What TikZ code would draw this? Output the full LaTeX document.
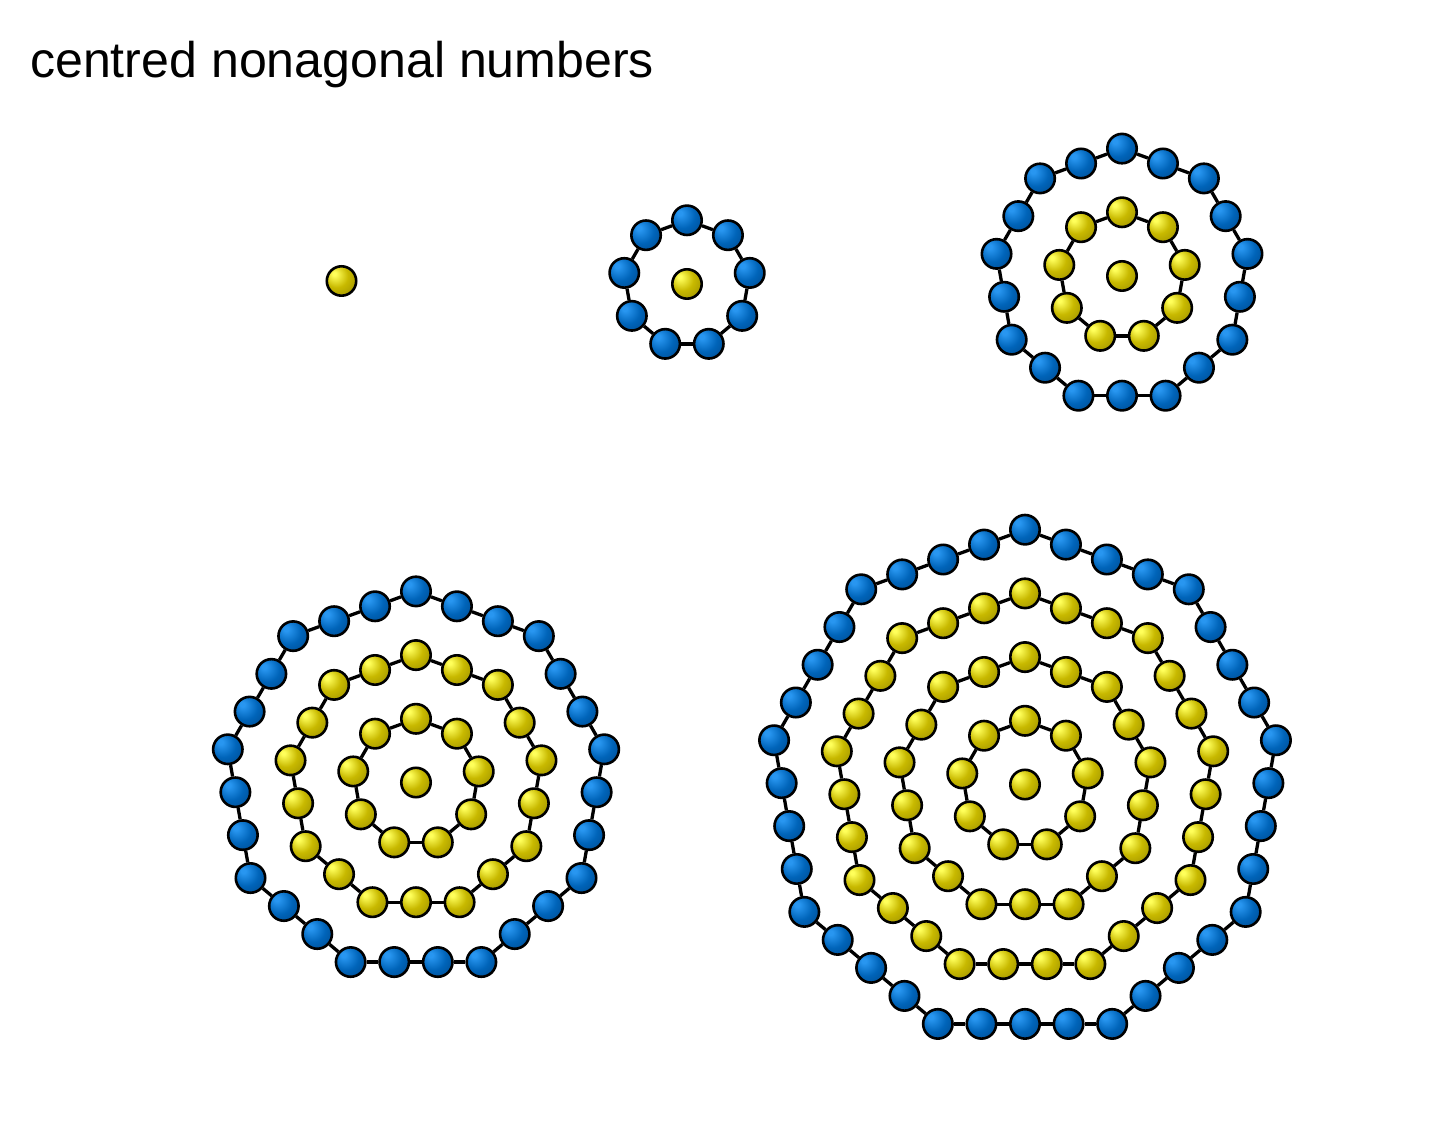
\documentclass[tikz,border=0pt]{standalone}
\usepackage{fontspec}
\setmainfont{Liberation Sans}
\definecolor{bhl}{RGB}{40,150,240}
\definecolor{bmid}{RGB}{0,100,185}
\definecolor{bdk}{RGB}{0,72,140}
\definecolor{bdark}{RGB}{0,40,85}
\definecolor{yhl}{RGB}{255,255,90}
\definecolor{ymid}{RGB}{200,185,0}
\definecolor{ydk}{RGB}{150,138,0}
\definecolor{ydark}{RGB}{90,80,0}
\pgfdeclareradialshading{blueball}{\pgfpoint{-13bp}{13bp}}{color(0bp)=(bhl); color(4bp)=(bhl); color(22bp)=(bmid); color(42bp)=(bdk); color(62bp)=(bdark)}
\pgfdeclareradialshading{yellowball}{\pgfpoint{-13bp}{13bp}}{color(0bp)=(yhl); color(3bp)=(yhl); color(20bp)=(ymid); color(42bp)=(ydk); color(62bp)=(ydark)}
\tikzset{
  dotbase/.style={circle, draw=black, line width=2.6pt, minimum size=29.4pt, inner sep=0pt, shade},
  bluedot/.style={dotbase, shading=blueball},
  yellowdot/.style={dotbase, shading=yellowball},
  edge/.style={draw=black, line width=3.3pt},
  titletext/.style={anchor=base west, inner sep=0pt, font=\fontsize{50.1}{55}\selectfont}
}
\def\R{63.7}
\newcommand\nonafig[4]{%
  \node[yellowdot] (#1-0) at (#2,#3) {};
  \foreach \k in {1,...,#4}{
    \pgfmathtruncatemacro\nd{9*\k}
    \pgfmathtruncatemacro\last{\nd-1}
    \foreach \j in {0,...,\last}{
      \pgfmathtruncatemacro\s{floor(\j/\k)}
      \pgfmathtruncatemacro\t{\j-\s*\k}
      \pgfmathsetmacro\aa{90+40*\s}
      \pgfmathsetmacro\px{#2+\R*((\k-\t)*cos(\aa)+\t*cos(\aa+40))/1}
      \pgfmathsetmacro\py{#3+\R*((\k-\t)*sin(\aa)+\t*sin(\aa+40))/1}
      \ifnum\k=#4\relax
        \node[bluedot] (#1-\k-\j) at (\px,\py) {};
      \else
        \node[yellowdot] (#1-\k-\j) at (\px,\py) {};
      \fi
    }
    \foreach \j in {0,...,\last}{
      \pgfmathtruncatemacro\nx{mod(\j+1,\nd)}
      \draw[edge] (#1-\k-\j) -- (#1-\k-\nx);
    }
  }
}
\begin{document}
\begin{tikzpicture}[x=1pt,y=1pt]
\useasboundingbox (0,0) rectangle (1441,1125);
\node[titletext] (title) at (30,1047) {centred nonagonal numbers};
\node[yellowdot] (f1-0) at (341.5,844) {};
\nonafig{f2}{687}{841}{1}
\nonafig{f3}{1122}{849}{2}
\nonafig{f4}{416}{342.5}{3}
\nonafig{f5}{1025}{340.5}{4}
\end{tikzpicture}
\end{document}
